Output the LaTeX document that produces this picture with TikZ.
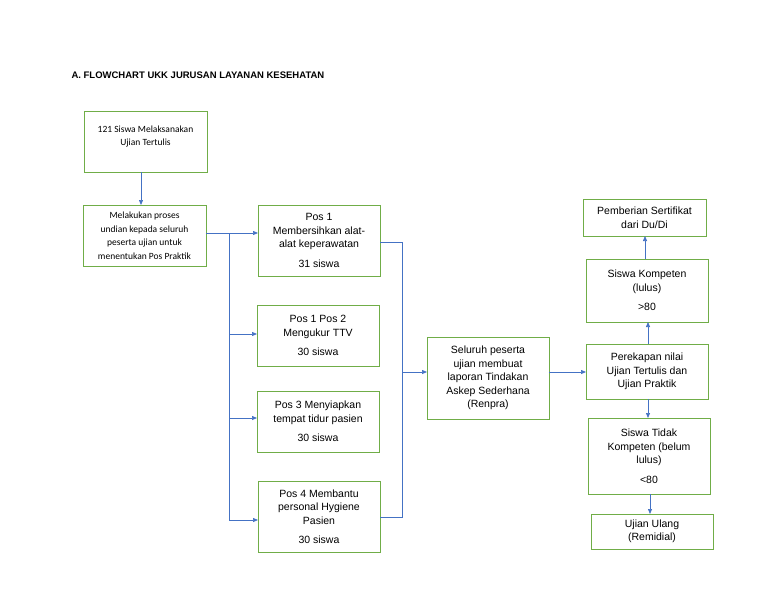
\documentclass[tikz,border=0pt]{standalone}
\usepackage{fontspec}
\setmainfont{Liberation Sans}
\newfontfamily\carlfont{Carlito}
\usetikzlibrary{arrows.meta}
\definecolor{gr}{RGB}{112,173,71}
\definecolor{bl}{RGB}{68,114,196}
\begin{document}
\begin{tikzpicture}[x=1pt,y=-1pt,
 box/.style={draw=gr,line width=1pt,inner sep=0,outer sep=0},
 txt/.style={align=center,font=\fontsize{10.5}{13.5}\selectfont},
 stxt/.style={align=center,font=\carlfont\fontsize{9.5}{13.5}\selectfont},
 con/.style={draw=bl,line width=0.7pt},
 arr/.style={con,-{Triangle[length=5pt,width=4pt]}}]
\useasboundingbox (0,0) rectangle (768,594);
\node[anchor=west,font=\bfseries\fontsize{9.5}{11}\selectfont] (title) at (68,75) {A. FLOWCHART UKK JURUSAN LAYANAN KESEHATAN};
\newcommand\bx[5]{\node[box,minimum width=#3-#2,minimum height=#5-#4] (#1) at ({(#2+#3)/2},{(#4+#5)/2}) {};}
\bx{b1}{84}{207}{111}{172}
\bx{b2}{83}{206}{205}{266}
\bx{p1}{258}{380}{205}{276}
\bx{p2}{257}{379}{305}{366}
\bx{p3}{257}{379}{391}{452}
\bx{p4}{258}{380}{481}{552}
\bx{ren}{427}{549}{337}{419}
\bx{rek}{586}{708}{344}{399}
\bx{komp}{586}{708}{259}{322}
\bx{sert}{583}{706}{199}{236}
\bx{tidak}{588}{710}{418}{494}
\bx{ulang}{591}{713}{514}{549}
\node[stxt,anchor=north] (t1) at (145.5,122) {121 Siswa Melaksanakan\\Ujian Tertulis};
\node[stxt] (t2) at (b2) {Melakukan proses\\undian kepada seluruh\\peserta ujian untuk\\menentukan Pos Praktik};
\node[txt] (tp1) at (p1) {Pos 1\\Membersihkan alat-\\alat keperawatan\\[6pt]31 siswa};
\node[txt] (tp2) at (p2) {Pos 1 Pos 2\\Mengukur TTV\\[6pt]30 siswa};
\node[txt] (tp3) at (p3) {Pos 3 Menyiapkan\\tempat tidur pasien\\[6pt]30 siswa};
\node[txt] (tp4) at (p4) {Pos 4 Membantu\\personal Hygiene\\Pasien\\[6pt]30 siswa};
\node[txt] (tren) at (ren) {Seluruh peserta\\ujian membuat\\laporan Tindakan\\Askep Sederhana\\(Renpra)};
\node[txt] (trek) at (rek) {Perekapan nilai\\Ujian Tertulis dan\\Ujian Praktik};
\node[txt] (tkomp) at (komp) {Siswa Kompeten\\(lulus)\\[6pt]>80};
\node[txt] (tsert) at (sert) {Pemberian Sertifikat\\dari Du/Di};
\node[txt] (ttidak) at (tidak) {Siswa Tidak\\Kompeten (belum\\lulus)\\[6pt]<80};
\node[txt] (tulang) at (ulang) {Ujian Ulang\\(Remidial)};
% connectors
\draw[arr] (b1.south -| 141,0) -- (b2.north -| 141,0);
\coordinate (j1) at (229,233);
\coordinate (j4) at (229,520);
\draw[arr] (b2.east |- j1) -- (p1.west |- j1);
\draw[con] (j1) -- (j4);
\draw[arr] (229,334) -- (p2.west |- 0,334);
\draw[arr] (229,418) -- (p3.west |- 0,418);
\draw[arr] (j4) -- (p4.west |- j4);
\coordinate (k1) at (402,242);
\coordinate (k4) at (402,517);
\coordinate (km) at (402,372);
\draw[con] (p1.east |- k1) -- (k1) -- (k4) -- (p4.east |- k4);
\draw[arr] (km) -- (ren.west |- km);
\draw[arr] (ren.east |- km) -- (rek.west |- km);
\draw[arr] (rek.north -| 648,0) -- (komp.south -| 648,0);
\draw[arr] (komp.north -| 645,0) -- (sert.south -| 645,0);
\draw[arr] (rek.south -| 648,0) -- (tidak.north -| 648,0);
\draw[arr] (tidak.south -| 650,0) -- (ulang.north -| 650,0);
\end{tikzpicture}
\end{document}
